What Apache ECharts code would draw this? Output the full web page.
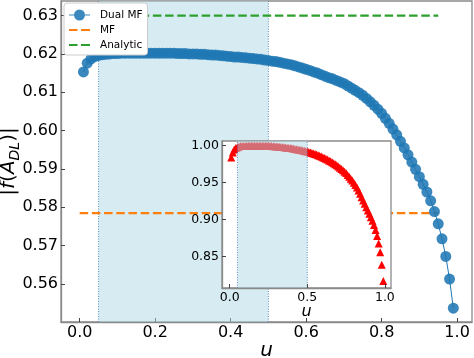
<!DOCTYPE html>
<html>
<head>
<meta charset="utf-8">
<script src="https://cdn.jsdelivr.net/npm/echarts@6/dist/echarts.min.js"></script>
<style>html,body{margin:0;padding:0;background:#fff}#c{width:474px;height:358px}</style>
</head>
<body>
<div id="c"></div>
<script>
// ---- data ----
const uVals = [0.01,0.02,0.03,0.04,0.05,0.06,0.07,0.08,0.09,0.10,
0.11,0.12,0.13,0.14,0.15,0.16,0.17,0.18,0.19,0.20,
0.21,0.22,0.23,0.24,0.25,0.26,0.27,0.28,0.29,0.30,
0.31,0.32,0.33,0.34,0.35,0.36,0.37,0.38,0.39,0.40,
0.41,0.42,0.43,0.44,0.45,0.46,0.47,0.48,0.49,0.50,
0.51,0.52,0.53,0.54,0.55,0.56,0.57,0.58,0.59,0.60,
0.61,0.62,0.63,0.64,0.65,0.66,0.67,0.68,0.69,0.70,
0.71,0.72,0.73,0.74,0.75,0.76,0.77,0.78,0.79,0.80,
0.81,0.82,0.83,0.84,0.85,0.86,0.87,0.88,0.89,0.90,
0.91,0.92,0.93,0.94,0.95,0.96,0.97,0.98,0.99];
const dualMF = [0.6153,0.6176,0.6187,0.6193,0.6196,0.6198,0.6199,0.6200,0.6201,0.6201,
0.6202,0.6202,0.6202,0.6202,0.6202,0.6202,0.6202,0.6202,0.6202,0.6202,
0.6202,0.6202,0.6202,0.6202,0.6202,0.6201,0.6201,0.6201,0.6200,0.6200,
0.6200,0.6199,0.6199,0.6198,0.6197,0.6197,0.6196,0.6195,0.6194,0.6193,
0.6192,0.6192,0.6191,0.6190,0.6189,0.6188,0.6187,0.6186,0.6184,0.6183,
0.6181,0.6180,0.6178,0.6176,0.6174,0.6172,0.6169,0.6166,0.6163,0.6160,
0.6157,0.6153,0.6150,0.6146,0.6142,0.6138,0.6135,0.6131,0.6127,0.6123,
0.6117,0.6111,0.6105,0.6099,0.6092,0.6084,0.6075,0.6066,0.6056,0.6045,
0.6032,0.6019,0.6004,0.5989,0.5972,0.5955,0.5937,0.5918,0.5899,0.5880,
0.5860,0.5840,0.5817,0.5789,0.5757,0.5718,0.5672,0.5613,0.5537];
const insetRatio = [0.984,0.991,0.995,0.997,0.998,0.999,0.9995,0.9995,0.9995,0.9998,
1.000,1.000,1.000,1.000,1.000,1.000,1.000,1.000,1.000,1.000,
1.000,1.000,1.000,1.000,1.000,0.9998,0.9996,0.9994,0.9992,0.9990,
0.9988,0.9986,0.9984,0.9982,0.9980,0.9977,0.9974,0.9971,0.9968,0.9965,
0.9961,0.9957,0.9953,0.9949,0.9945,0.9941,0.9937,0.9932,0.9927,0.9922,
0.9916,0.9910,0.9903,0.9896,0.9889,0.9881,0.9873,0.9864,0.9855,0.9845,
0.9835,0.9824,0.9813,0.9801,0.9789,0.9776,0.9763,0.9749,0.9735,0.9720,
0.9704,0.9687,0.9669,0.9650,0.9630,0.9605,0.9580,0.9555,0.9530,0.9500,
0.9470,0.9435,0.9395,0.9350,0.9305,0.9260,0.9215,0.9170,0.9125,0.9080,
0.9035,0.8985,0.8930,0.8860,0.8780,0.8680,0.8560,0.8390,0.8170];
const mfLevel = 0.5785;
const analyticLevel = 0.63;
const refSpan = [0.0, 0.95];
const shadeRange = [0.05, 0.5];
const xTicks = [0.0, 0.2, 0.4, 0.6, 0.8, 1.0];
const yTicks = [0.56, 0.57, 0.58, 0.59, 0.60, 0.61, 0.62, 0.63];
const insetXTicks = [0.0, 0.5, 1.0];
const insetYTicks = [0.85, 0.90, 0.95, 1.00];

// ---- config ----
const FONT = 'DejaVu Sans';
const X_MIN = -0.0495, X_MAX = 1.0395;
const Y_MIN = 0.5501, Y_MAX = 0.6338;
const IY_MIN = 0.8077, IY_MAX = 1.0064;
const frame = '#8a8a8a';
const shadeColor = 'rgba(173,216,230,0.5)';
const edgeColor = 'rgba(70,120,170,0.8)';

const mainData = uVals.map((u, i) => [u, dualMF[i]]);
const insetData = uVals.map((u, i) => [u, insetRatio[i]]);

function axisCommon(ticks, fmt, fs, margin, z) {
  return {
    type: 'value', z: z, nameMoveOverlap: false,
    axisLine: { show: true, onZero: false, lineStyle: { color: frame, width: 1.3 } },
    axisTick: { show: true, inside: true, length: 4, customValues: ticks, lineStyle: { color: '#444', width: 1 } },
    axisLabel: { customValues: ticks, formatter: v => v.toFixed(fmt), fontSize: fs, color: '#000', margin: margin, fontFamily: FONT },
    splitLine: { show: false }
  };
}

const option = {
  animation: false,
  backgroundColor: '#fff',
  grid: [
    { left: 61, top: 1, width: 411, height: 321, show: true, borderColor: frame, borderWidth: 1.3, backgroundColor: 'transparent', outerBoundsMode: 'none' },
    { left: 222, top: 141, width: 169, height: 147, show: true, z: 5, borderColor: frame, borderWidth: 1.3, backgroundColor: '#fff', outerBoundsMode: 'none' }
  ],
  xAxis: [
    Object.assign(axisCommon(xTicks, 1, 16, 3, 0), { gridIndex: 0, min: X_MIN, max: X_MAX,
      name: 'u', nameLocation: 'middle', nameGap: 19,
      nameTextStyle: { fontStyle: 'italic', fontSize: 20, fontFamily: FONT, color: '#000' } }),
    Object.assign(axisCommon(insetXTicks, 1, 12.5, 3, 8), { gridIndex: 1, min: X_MIN, max: X_MAX,
      name: 'u', nameLocation: 'middle', nameGap: 16,
      nameTextStyle: { fontStyle: 'italic', fontSize: 16, fontFamily: FONT, color: '#000' } })
  ],
  yAxis: [
    Object.assign(axisCommon(yTicks, 2, 16, 3, 0), { gridIndex: 0, min: Y_MIN, max: Y_MAX,
      name: '|{it|f}({it|A}{sub|DL})|', nameLocation: 'middle', nameGap: 39, nameRotate: 90,
      nameTextStyle: { fontSize: 20, fontFamily: FONT, color: '#000',
        rich: {
          it: { fontStyle: 'italic', fontSize: 20, fontFamily: FONT, color: '#000' },
          sub: { fontStyle: 'italic', fontSize: 14, fontFamily: FONT, color: '#000', verticalAlign: 'bottom', lineHeight: 26 }
        } } }),
    Object.assign(axisCommon(insetYTicks, 2, 12.5, 3, 8), { gridIndex: 1, min: IY_MIN, max: IY_MAX })
  ],
  legend: {
    left: 64, top: 3, orient: 'vertical',
    itemWidth: 26, itemHeight: 14, itemGap: 1,
    padding: [5, 5, 3, 5],
    backgroundColor: '#fff', borderColor: '#cccccc', borderWidth: 1, borderRadius: 3,
    textStyle: { fontSize: 10.5, fontFamily: FONT, color: '#000' },
    itemStyle: { borderWidth: 0 },
    selectedMode: false,
    data: [
      { name: 'Dual MF', icon: 'path://M0,0M26,14M0,6.5h5v1h-5zM16,6.5h5v1h-5zM5,7a5.5,5.5 0 1,0 11,0a5.5,5.5 0 1,0 -11,0z' },
      { name: 'MF', icon: 'path://M0,0M26,14M0,6h8.5v2h-8.5zM12,6h9v2h-9z' },
      { name: 'Analytic', icon: 'path://M0,0M26,14M0,6h8.5v2h-8.5zM12,6h9v2h-9z' }
    ]
  },
  series: [
    { name: 'shade', type: 'line', xAxisIndex: 0, yAxisIndex: 0, z: 1, silent: true, symbol: 'none',
      data: [[shadeRange[0], Y_MAX], [shadeRange[1], Y_MAX]],
      lineStyle: { width: 0 }, areaStyle: { color: shadeColor, opacity: 1, origin: 'start' } },
    { name: 'edgeL', type: 'line', xAxisIndex: 0, yAxisIndex: 0, z: 1, silent: true, symbol: 'none',
      data: [[shadeRange[0], Y_MIN], [shadeRange[0], Y_MAX]], lineStyle: { color: edgeColor, width: 1, type: [1, 1.5] } },
    { name: 'edgeR', type: 'line', xAxisIndex: 0, yAxisIndex: 0, z: 1, silent: true, symbol: 'none',
      data: [[shadeRange[1], Y_MIN], [shadeRange[1], Y_MAX]], lineStyle: { color: edgeColor, width: 1, type: [1, 1.5] } },
    { name: 'MF', type: 'line', xAxisIndex: 0, yAxisIndex: 0, z: 2, silent: true, symbol: 'none', color: '#ff7f0e',
      data: [[refSpan[0], mfLevel], [refSpan[1], mfLevel]], lineStyle: { color: '#ff7f0e', width: 2.2, type: [8.5, 3.7] } },
    { name: 'Analytic', type: 'line', xAxisIndex: 0, yAxisIndex: 0, z: 2, silent: true, symbol: 'none', color: '#2ca02c',
      data: [[refSpan[0], analyticLevel], [refSpan[1], analyticLevel]], lineStyle: { color: '#2ca02c', width: 2.2, type: [8.5, 3.7] } },
    { name: 'Dual MF', type: 'line', xAxisIndex: 0, yAxisIndex: 0, z: 3, silent: true, color: '#1f77b4',
      symbol: 'circle', symbolSize: 11, showAllSymbol: true, data: mainData,
      lineStyle: { color: '#1f77b4', width: 1 }, itemStyle: { color: '#1f77b4', opacity: 0.88, borderWidth: 0 } },
    { name: 'ratio', type: 'line', xAxisIndex: 1, yAxisIndex: 1, z: 6, silent: true, color: '#ff0000',
      symbol: 'triangle', symbolSize: 8, showAllSymbol: true, data: insetData,
      lineStyle: { width: 0, opacity: 0 }, itemStyle: { color: '#ff0000', borderWidth: 0 } },
    { name: 'ishade', type: 'line', xAxisIndex: 1, yAxisIndex: 1, z: 7, silent: true, symbol: 'none',
      data: [[shadeRange[0], IY_MAX], [shadeRange[1], IY_MAX]],
      lineStyle: { width: 0 }, areaStyle: { color: shadeColor, opacity: 1, origin: 'start' } },
    { name: 'iedgeL', type: 'line', xAxisIndex: 1, yAxisIndex: 1, z: 7, silent: true, symbol: 'none',
      data: [[shadeRange[0], IY_MIN], [shadeRange[0], IY_MAX]], lineStyle: { color: edgeColor, width: 1, type: [1, 1.5] } },
    { name: 'iedgeR', type: 'line', xAxisIndex: 1, yAxisIndex: 1, z: 7, silent: true, symbol: 'none',
      data: [[shadeRange[1], IY_MIN], [shadeRange[1], IY_MAX]], lineStyle: { color: edgeColor, width: 1, type: [1, 1.5] } }
  ]
};

const chart = echarts.init(document.getElementById('c'), null, { renderer: 'canvas' });
chart.setOption(option);
</script>
</body>
</html>
